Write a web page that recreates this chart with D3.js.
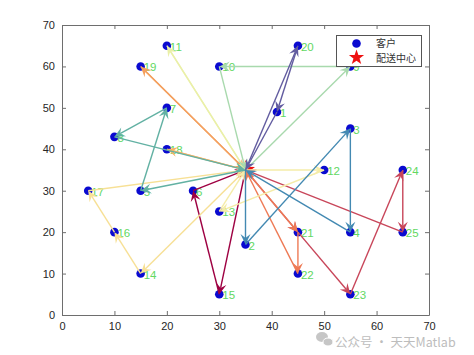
<!DOCTYPE html>
<html><head><meta charset="utf-8">
<script src="https://cdn.jsdelivr.net/npm/d3@7"></script>
<style>body{margin:0;background:#fff}svg{display:block}</style>
</head><body><svg id="c" width="474" height="355"></svg>
<script>
// customers: id, x, y
const custIds = [1,2,3,4,5,6,7,8,9,10,11,12,13,14,15,16,17,18,19,20,21,22,23,24,25];
const custX = [41,35,55,55,15,25,20,10,55,30,20,50,30,15,30,10,5,20,15,45,45,45,55,65,65];
const custY = [49,17,45,20,30,30,50,43,60,60,65,35,25,10,5,20,30,40,60,65,20,10,5,35,20];
const depot = [35,35];
// routes (0 = depot)
const routes = [
  [0,15,6,0],
  [0,21,23,24,25,0],
  [0,21,22,0],
  [0,19,0],
  [0,18,0],
  [0,14,16,17,0],
  [0,12,13,0],
  [0,11,0],
  [0,9,10,0],
  [0,5,7,8,0],
  [0,2,3,4,0],
  [0,20,1,0]
];
const routeColors = ["#9e0142","#c8465a","#ee7a55","#f4a05e","#f9b266","#f7e095","#f5eca8","#eaf0a8","#a8d9ad","#62b1a3","#4389b2","#625ca0"];
const xTicks = [0,10,20,30,40,50,60,70];
const yTicks = [0,10,20,30,40,50,60,70];
const legendLabels = ["客户","配送中心"];

const svg = d3.select("#c");
const L=62,R=429,T=25,B=315;
const x = d3.scaleLinear().domain([0,70]).range([L,R]);
const y = d3.scaleLinear().domain([0,70]).range([B,T]);
const axCol = "#6e6e6e";
const font = "'Liberation Sans', Arial, sans-serif";

// axes
const gx = svg.append("g").attr("transform",`translate(0,${B})`)
  .call(d3.axisBottom(x).tickValues(xTicks).tickSizeInner(-4).tickSizeOuter(0).tickPadding(7));
const gy = svg.append("g").attr("transform",`translate(${L},0)`)
  .call(d3.axisLeft(y).tickValues(yTicks).tickSizeInner(-4).tickSizeOuter(0).tickPadding(7));
const gxt = svg.append("g").attr("transform",`translate(0,${T})`)
  .call(d3.axisTop(x).tickValues(xTicks).tickSizeInner(-4).tickSizeOuter(0).tickFormat(""));
const gyr = svg.append("g").attr("transform",`translate(${R},0)`)
  .call(d3.axisRight(y).tickValues(yTicks).tickSizeInner(-4).tickSizeOuter(0).tickFormat(""));
[gx,gy,gxt,gyr].forEach(g=>{
  g.selectAll("path,line").attr("stroke",axCol).attr("stroke-width",1);
  g.selectAll("text").attr("fill","#262626").style("font-family",font).style("font-size","11px");
});

// depot star
function starPath(cx,cy,r){
  const pts=[];
  for(let i=0;i<10;i++){
    const a=-Math.PI/2+i*Math.PI/5;
    const rr = i%2===0? r : r*0.4;
    pts.push([cx+rr*Math.cos(a), cy+rr*Math.sin(a)]);
  }
  return "M"+pts.map(p=>p.join(",")).join("L")+"Z";
}
svg.append("path").attr("d",starPath(x(depot[0]),y(depot[1]),10)).attr("fill","#ee1111");

// points
const pts = custIds.map((id,i)=>({id, x:custX[i], y:custY[i]}));
svg.selectAll("circle.cust").data(pts).enter().append("circle")
  .attr("cx",d=>x(d.x)).attr("cy",d=>y(d.y)).attr("r",4.3).attr("fill","#0a0ad0");
svg.selectAll("text.lbl").data(pts).enter().append("text")
  .attr("x",d=>x(d.x)+3).attr("y",d=>y(d.y)+5)
  .text(d=>d.id).attr("fill","#62d862").style("font-family",font).style("font-size","11.5px");

// arrows
function coord(id){ return id===0? depot : [custX[id-1], custY[id-1]]; }
const segs=[];
routes.forEach((r,ri)=>{
  for(let k=0;k<r.length-1;k++){
    segs.push({a:coord(r[k]), b:coord(r[k+1]), c:routeColors[ri]});
  }
});
const ag = svg.append("g");
segs.forEach(s=>{
  const x1=x(s.a[0]),y1=y(s.a[1]),x2=x(s.b[0]),y2=y(s.b[1]);
  const ang=Math.atan2(y2-y1,x2-x1);
  const Lh=10.5,W=5,N=6.5;
  ag.append("line").attr("x1",x1).attr("y1",y1)
    .attr("x2",x2-Math.cos(ang)*N).attr("y2",y2-Math.sin(ang)*N)
    .attr("stroke",s.c).attr("stroke-width",1.4);
  const c=Math.cos(ang), sn=Math.sin(ang);
  const p=(u,v)=>[x2+u*c-v*sn, y2+u*sn+v*c];
  const hp=[p(0,0),p(-Lh,W),p(-N,0),p(-Lh,-W)];
  ag.append("path").attr("d","M"+hp.map(q=>q.join(",")).join("L")+"Z").attr("fill",s.c);
});

// legend
const lg = svg.append("g");
lg.append("rect").attr("x",336.5).attr("y",35.5).attr("width",85).attr("height",31)
  .attr("fill","#fff").attr("stroke","#555").attr("stroke-width",1);
lg.append("circle").attr("cx",356.5).attr("cy",43.5).attr("r",4.3).attr("fill","#0a0ad0");
lg.append("path").attr("d",starPath(356.5,57.5,8)).attr("fill","#ee1111");
lg.selectAll("text").data(legendLabels).enter().append("text")
  .attr("x",376).attr("y",(d,i)=>47+i*14.5).text(d=>d)
  .attr("fill","#333").style("font-family","'Noto Sans CJK SC', sans-serif").style("font-size","10px");

// watermark
const wm = svg.append("g").attr("opacity",0.55);
wm.append("ellipse").attr("cx",322).attr("cy",337).attr("rx",6).attr("ry",5).attr("fill","#999");
wm.append("ellipse").attr("cx",328).attr("cy",342).attr("rx",5).attr("ry",4).attr("fill","#999").attr("stroke","#fff").attr("stroke-width",1);
wm.append("text").attr("x",335).attr("y",347).text("公众号 · 天天Matlab")
  .attr("fill","#888").style("font-family","'Noto Sans CJK SC', sans-serif").style("font-size","12.5px");
</script></body></html>
